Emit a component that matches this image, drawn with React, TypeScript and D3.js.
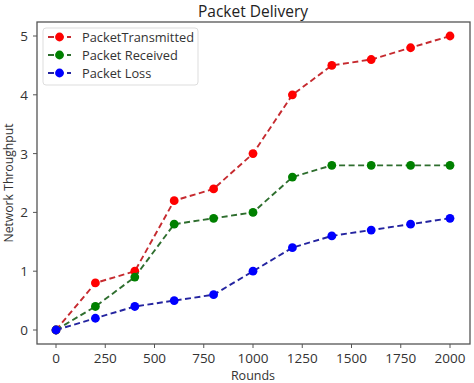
import React from "react";
import * as d3 from "d3";

const rounds = [0, 200, 400, 600, 800, 1000, 1200, 1400, 1600, 1800, 2000];
const transmitted = [0, 0.8, 1.0, 2.2, 2.4, 3.0, 4.0, 4.5, 4.6, 4.8, 5.0];
const received = [0, 0.4, 0.9, 1.8, 1.9, 2.0, 2.6, 2.8, 2.8, 2.8, 2.8];
const loss = [0, 0.2, 0.4, 0.5, 0.6, 1.0, 1.4, 1.6, 1.7, 1.8, 1.9];
const xTicks = [0, 250, 500, 750, 1000, 1250, 1500, 1750, 2000];
const yTicks = [0, 1, 2, 3, 4, 5];
const seriesNames = ["PacketTransmitted", "Packet Received", "Packet Loss"];

const W = 474, H = 383;
const left = 37, right = 470, top = 22, bottom = 344;

export default function App() {
  const x = d3.scaleLinear().domain([0, 2000]).range([56, 450]);
  const y = d3.scaleLinear().domain([0, 5]).range([330, 36]);
  const line = d3.line<number>().x((_, i) => x(rounds[i])).y((d) => y(d));
  const series = [
    { name: seriesNames[0], data: transmitted, line: "#c62a2f", marker: "#ff0000" },
    { name: seriesNames[1], data: received, line: "#2e6e2e", marker: "#008000" },
    { name: seriesNames[2], data: loss, line: "#2424a0", marker: "#0000ff" },
  ];
  const font = "'Open Sans', 'DejaVu Sans', sans-serif";
  return (
    <svg width={W} height={H} style={{ position: "absolute", left: 0, top: 0, background: "#fff" }} fontFamily={font}>
      <rect x={0} y={0} width={W} height={H} fill="#fff" />
      <text x={253} y={17} textAnchor="middle" fontSize={15.5} fill="#222">Packet Delivery</text>
      {series.map((s) => (
        <g key={s.name}>
          <path d={line(s.data) || ""} fill="none" stroke={s.line} strokeWidth={1.9} strokeDasharray="6,3.5" />
          {s.data.map((v, i) => (
            <circle key={i} cx={x(rounds[i])} cy={y(v)} r={4.4} fill={s.marker} />
          ))}
        </g>
      ))}
      <rect x={left} y={top} width={right - left} height={bottom - top} fill="none" stroke="#555" strokeWidth={1.3} />
      {xTicks.map((t) => (
        <g key={t}>
          <line x1={x(t)} x2={x(t)} y1={bottom} y2={bottom + 4} stroke="#555" strokeWidth={1} />
          <text x={x(t)} y={363} textAnchor="middle" fontSize={13.5} fill="#333">{t}</text>
        </g>
      ))}
      {yTicks.map((t) => (
        <g key={t}>
          <line x1={left - 4} x2={left} y1={y(t)} y2={y(t)} stroke="#555" strokeWidth={1} />
          <text x={28} y={y(t) + 5} textAnchor="end" fontSize={13.5} fill="#333">{t}</text>
        </g>
      ))}
      <text x={253} y={380} textAnchor="middle" fontSize={12.5} fill="#333">Rounds</text>
      <text transform={`translate(13,183) rotate(-90)`} textAnchor="middle" fontSize={12.2} fill="#333">Network Throughput</text>
      <rect x={43} y={28} width={155} height={57} rx={3} fill="#fff" fillOpacity={0.85} stroke="#ddd" strokeWidth={1} />
      {series.map((s, i) => {
        const cy = 37 + i * 18;
        return (
          <g key={s.name}>
            <line x1={48} x2={71} y1={cy} y2={cy} stroke={s.line} strokeWidth={1.9} strokeDasharray="6,3.5" />
            <circle cx={59.5} cy={cy} r={4.4} fill={s.marker} />
            <text x={82} y={cy + 4.5} fontSize={12.8} fill="#333">{s.name}</text>
          </g>
        );
      })}
    </svg>
  );
}
